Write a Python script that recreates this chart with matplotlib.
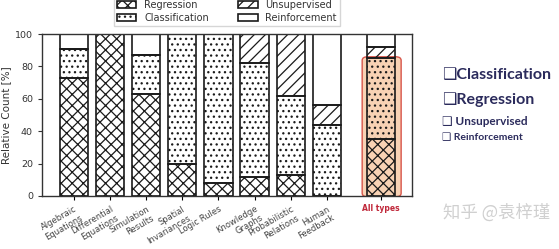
import numpy as np
import matplotlib
matplotlib.use('Agg')
import matplotlib.pyplot as plt
from matplotlib.patches import FancyBboxPatch

categories = ['Algebraic\nEquations', 'Differential\nEquations', 'Simulation\nResults',
              'Spatial\nInvariances', 'Logic Rules', 'Knowledge\nGraphs',
              'Probabilistic\nRelations', 'Human\nFeedback', 'All types']
regression     = [73, 100, 63, 20, 8, 12, 13, 0, 35]
classification = [18, 0, 24, 80, 92, 70, 49, 44, 50]
unsupervised   = [0, 0, 0, 0, 0, 18, 38, 12, 7]
reinforcement  = [9, 0, 13, 0, 0, 0, 0, 44, 8]

series_names = ['Regression', 'Classification', 'Unsupervised', 'Reinforcement']
hatches = ['xxx', '...', '///', '']

side_labels = ['❑Classification', '❑Regression', '❑ Unsupervised', '❑ Reinforcement']

x = np.array([0, 1, 2, 3, 4, 5, 6, 7, 8.5])

plt.rcParams['hatch.linewidth'] = 0.9

fig = plt.figure(figsize=(5.59, 2.49), dpi=100)
ax = fig.add_axes([0.075, 0.213, 0.662, 0.65])

# highlight behind the "All types" bar
box = FancyBboxPatch((7.98, -0.5), 1.08, 86.5, boxstyle='round,pad=0,rounding_size=0.15',
                     mutation_aspect=15, facecolor='#f8cdac', edgecolor='#d4463c',
                     linewidth=1.0, zorder=0, alpha=0.9)
ax.add_patch(box)

bottom = np.zeros(len(x))
for name, vals, h in zip(series_names, [regression, classification, unsupervised, reinforcement], hatches):
    vals = np.array(vals, dtype=float)
    ax.bar(x, vals, 0.78, bottom=bottom, facecolor='none', edgecolor='#1a1a1a',
           hatch=h, linewidth=1.2, label=name, zorder=2)
    bottom += vals

# white fill behind non-highlighted bars
ax.bar(x[:-1], 100, 0.78, color='white', zorder=1)

ax.set_xlim(-0.89, 9.36)
ax.set_ylim(0, 100)
ax.set_yticks([0, 20, 40, 60, 80, 100])
ax.set_ylabel('Relative Count [%]', fontsize=7.5, color='#333333', labelpad=3)
ax.tick_params(axis='y', labelsize=6.8, colors='#333333', length=3)
ax.set_xticks(x)
ax.set_xticklabels(categories[:-1] + [''], rotation=30, ha='right', rotation_mode='anchor',
                   fontsize=6, color='#444444')
ax.tick_params(axis='x', length=3, pad=3)
ax.text(8.5, -5, categories[-1], ha='center', va='top', fontsize=5.5, color='#c0283a',
        fontweight='bold')
for s in ax.spines.values():
    s.set_color('#333333')
    s.set_linewidth(1.0)

leg = ax.legend(loc='lower center', bbox_to_anchor=(0.5, 1.02), ncol=2, fontsize=7,
                frameon=True, handlelength=2.0, columnspacing=3.0, borderpad=0.3,
                labelspacing=0.3, edgecolor='#cccccc', fancybox=False)
for t in leg.get_texts():
    t.set_color('#333333')

ys = [0.699, 0.598, 0.514, 0.446]
sizes = [11.5, 11.5, 8.5, 7.5]
for lab, yy, fs in zip(side_labels, ys, sizes):
    fig.text(0.79, yy, lab, fontsize=fs, fontweight='bold', color='#2b2b5c',
             family=['Lato', 'DejaVu Sans'], va='center')

fig.text(0.792, 0.145, '知乎 @袁梓瑾', fontsize=12.5, color='#d0d0d0',
         family=['Noto Sans CJK SC', 'DejaVu Sans'], va='center')

fig.savefig('out.png', dpi=100)
